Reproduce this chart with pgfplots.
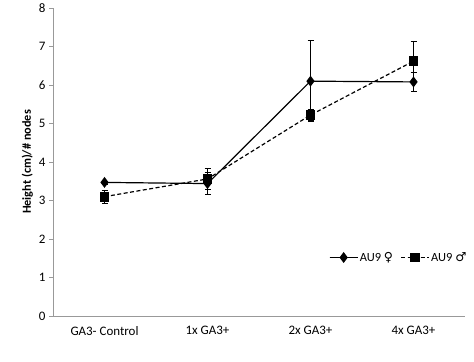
\documentclass[border=0pt]{standalone}
\usepackage{fontspec}
\setmainfont{Carlito}
\newfontfamily\symfont{DejaVu Sans}
\usepackage{pgfplots}
\pgfplotsset{compat=1.18}
\begin{document}
\begin{tikzpicture}[x=1bp,y=1bp]
\useasboundingbox (0,0) rectangle (474,361);
\begin{axis}[
  at={(53bp,45bp)}, anchor=south west,
  scale only axis, width=412bp, height=308bp,
  xmin=-0.5, xmax=3.5, ymin=0, ymax=8,
  axis lines*=left,
  axis line style={draw=gray!80, line width=0.8pt},
  xtick={0,1,2,3},
  xticklabels={GA3- Control, 1x GA3+, 2x GA3+, 4x GA3+},
  x tick style={draw=none},
  extra x ticks={-0.5,0.5,1.5,2.5,3.5},
  extra x tick labels={},
  extra x tick style={tick align=outside, major tick length=4bp, tick style={draw=gray!80, line width=0.8pt}},
  ytick={0,1,...,8},
  y tick style={draw=gray!80, line width=0.8pt},
  tick align=outside, major tick length=4bp,
  /pgf/number format/assume math mode=true,
  tick label style={font=\fontsize{13}{15}\selectfont, text=black},
  xticklabel style={yshift=-3bp},
  ylabel={\bfseries Height (cm)/\# nodes},
  ylabel style={font=\fontsize{12.3}{15}\selectfont, yshift=-1bp},
  legend style={draw=none, fill=none, at={(1.015,0.19)}, anchor=east,
    font=\fontsize{12.5}{15}\selectfont,
    nodes={inner xsep=1.5bp},
    /tikz/every even column/.append style={column sep=6bp}},
  legend columns=2,
  legend image code/.code={
    \draw[#1] (0bp,0bp) -- (28bp,0bp);
    \draw[#1, mark repeat=2, mark phase=2] plot coordinates {(0bp,0bp) (14bp,0bp) (28bp,0bp)};
  },
]
\addplot[black, line width=1.2pt, mark=diamond*, mark size=4.5bp,
  mark options={solid, fill=black},
  error bars/.cd, y dir=both, y explicit,
  error bar style={line width=0.6pt, solid}, error mark options={rotate=90, mark size=3bp, line width=0.6pt}]
coordinates {
 (0,3.47) +- (0,0.04)
 (1,3.44) +- (0,0.29)
 (2,6.10) +- (0,1.05)
 (3,6.08) +- (0,0.24)
};
\addlegendentry{AU9 {\symfont ♀}}
\addplot[black, line width=1.2pt, dash pattern=on 4pt off 2.5pt, mark=square*, mark size=4.3bp,
  mark options={solid, fill=black},
  error bars/.cd, y dir=both, y explicit,
  error bar style={line width=0.6pt, solid}, error mark options={rotate=90, mark size=3bp, line width=0.6pt}]
coordinates {
 (0,3.10) +- (0,0.16)
 (1,3.56) +- (0,0.27)
 (2,5.22) +- (0,0.14)
 (3,6.62) +- (0,0.52)
};
\addlegendentry{AU9 {\symfont ♂}}
\end{axis}
\end{tikzpicture}
\end{document}
